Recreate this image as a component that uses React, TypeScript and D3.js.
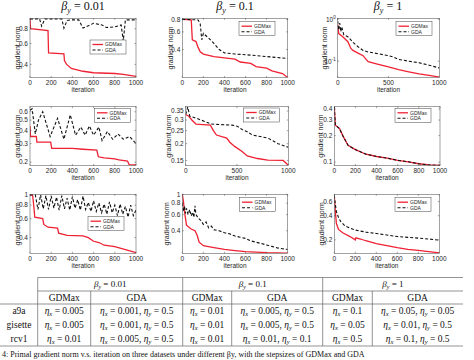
import React from "react";
import * as d3 from "d3";

type Pt = [number, number];

const betaLabels = ["0.01", "0.1", "1"];
const methodNames = ["GDMax", "GDA"];
const datasetNames = ["a9a", "gisette", "rcv1"];
const iterFine = [0, 200, 400, 600, 800, 1000];
const iterCoarse = [0, 500, 1000];

// gradient norm vs iteration, [iter, value]
// row 1: a9a
const a9aGDMax001: Pt[] = [[0, 0.97], [5, 0.8], [170, 0.77], [175, 0.5], [320, 0.49], [325, 0.43], [345, 0.4], [390, 0.37], [500, 0.35], [600, 0.34], [800, 0.335], [880, 0.33], [1000, 0.317]];
const a9aGDA001: Pt[] = [[0, 0.97], [90, 0.97], [110, 0.84], [140, 0.97], [300, 0.97], [320, 0.81], [350, 0.94], [380, 0.95], [460, 0.95], [500, 0.81], [540, 0.84], [600, 0.89], [680, 0.86], [720, 0.82], [800, 0.83], [860, 0.86], [880, 0.63], [900, 0.95], [1000, 0.95]];
const a9aGDMax01: Pt[] = [[0, 0.8], [85, 0.79], [95, 0.5], [130, 0.48], [150, 0.42], [170, 0.38], [200, 0.36], [300, 0.34], [400, 0.33], [500, 0.32], [550, 0.3], [650, 0.29], [700, 0.27], [800, 0.26], [850, 0.245], [950, 0.23], [1000, 0.21]];
const a9aGDA01: Pt[] = [[0, 0.8], [150, 0.79], [170, 0.72], [185, 0.5], [200, 0.58], [250, 0.52], [300, 0.46], [350, 0.4], [400, 0.37], [500, 0.36], [600, 0.355], [800, 0.34], [1000, 0.325]];
const a9aGDMax1: Pt[] = [[0, 0.75], [10, 0.45], [50, 0.38], [100, 0.29], [130, 0.2], [150, 0.18], [200, 0.155], [250, 0.135], [280, 0.11], [300, 0.097], [400, 0.084], [500, 0.073], [600, 0.063], [700, 0.056], [800, 0.05], [900, 0.046], [1000, 0.042]];
const a9aGDA1: Pt[] = [[0, 0.9], [10, 0.55], [20, 0.8], [30, 0.5], [40, 0.65], [60, 0.42], [100, 0.38], [150, 0.28], [200, 0.22], [250, 0.18], [300, 0.165], [400, 0.15], [500, 0.135], [550, 0.125], [600, 0.11], [700, 0.1], [800, 0.092], [900, 0.08], [1000, 0.069]];

// row 2: gisette
const gisGDMax001: Pt[] = [[0, 0.44], [5, 0.35], [60, 0.35], [65, 0.31], [195, 0.31], [205, 0.27], [400, 0.27], [500, 0.265], [630, 0.26], [645, 0.225], [700, 0.22], [800, 0.215], [840, 0.21], [920, 0.205], [935, 0.19], [1000, 0.188]];
const gisGDA001: Pt[] = [[0, 0.62], [20, 0.64], [50, 0.37], [80, 0.5], [120, 0.6], [190, 0.35], [260, 0.52], [320, 0.33], [380, 0.56], [430, 0.36], [480, 0.43], [520, 0.36], [560, 0.44], [600, 0.36], [650, 0.43], [680, 0.32], [730, 0.39], [780, 0.33], [830, 0.37], [880, 0.33], [940, 0.35], [1000, 0.3]];
const gisGDMax01: Pt[] = [[0, 0.33], [30, 0.32], [60, 0.3], [100, 0.28], [240, 0.275], [270, 0.25], [300, 0.232], [400, 0.22], [430, 0.205], [480, 0.19], [550, 0.175], [600, 0.162], [700, 0.155], [800, 0.151], [950, 0.15], [1000, 0.138]];
const gisGDA01: Pt[] = [[0, 0.33], [20, 0.375], [40, 0.32], [100, 0.31], [200, 0.29], [250, 0.28], [350, 0.277], [450, 0.275], [500, 0.27], [550, 0.255], [600, 0.245], [650, 0.232], [700, 0.228], [800, 0.22], [850, 0.21], [900, 0.2], [1000, 0.188]];
const gisGDMax1: Pt[] = [[0, 0.42], [10, 0.262], [50, 0.24], [80, 0.2], [130, 0.155], [200, 0.139], [300, 0.123], [400, 0.116], [500, 0.111], [600, 0.105], [700, 0.101], [800, 0.096], [900, 0.093], [1000, 0.092]];
const gisGDA1: Pt[] = [[0, 0.42], [10, 0.262], [50, 0.24], [80, 0.2], [130, 0.155], [200, 0.139], [300, 0.123], [400, 0.116], [500, 0.111], [600, 0.105], [700, 0.101], [800, 0.096], [900, 0.093], [1000, 0.092]];

// row 3: rcv1
const rcvGDMax001: Pt[] = [[0, 1.0], [25, 0.98], [35, 0.8], [45, 0.62], [120, 0.6], [130, 0.53], [170, 0.5], [260, 0.49], [270, 0.44], [350, 0.42], [500, 0.415], [550, 0.4], [600, 0.37], [650, 0.36], [700, 0.34], [800, 0.33], [900, 0.31], [950, 0.3], [1000, 0.29]];
const rcvGDA001: Pt[] = [[0, 1.0], [25, 1.0], [50, 1.0], [75, 0.73], [100, 1.0], [125, 0.74], [150, 0.98], [175, 0.73], [200, 0.97], [225, 0.75], [250, 0.95], [275, 0.72], [300, 0.98], [325, 0.74], [350, 0.93], [375, 0.72], [400, 0.96], [425, 0.75], [450, 0.9], [475, 0.72], [500, 0.97], [525, 0.73], [550, 0.85], [575, 0.7], [600, 0.88], [625, 0.7], [650, 0.84], [675, 0.68], [700, 0.82], [725, 0.66], [750, 0.86], [775, 0.68], [800, 0.8], [825, 0.64], [850, 0.82], [875, 0.66], [900, 0.78], [925, 0.62], [950, 0.8], [975, 0.64], [1000, 0.72]];
const rcvGDMax01: Pt[] = [[0, 1.0], [10, 0.85], [25, 0.6], [40, 0.46], [80, 0.42], [120, 0.4], [140, 0.36], [160, 0.3], [200, 0.275], [300, 0.262], [400, 0.25], [500, 0.243], [600, 0.237], [800, 0.231], [1000, 0.228]];
const rcvGDA01: Pt[] = [[0, 0.8], [10, 0.65], [20, 0.75], [30, 0.62], [40, 0.7], [55, 0.6], [70, 0.68], [85, 0.58], [100, 0.64], [110, 0.56], [120, 0.75], [130, 0.6], [150, 0.55], [175, 0.52], [200, 0.47], [225, 0.5], [250, 0.43], [275, 0.45], [300, 0.41], [350, 0.4], [400, 0.38], [450, 0.37], [500, 0.35], [550, 0.34], [600, 0.33], [650, 0.31], [700, 0.3], [750, 0.29], [800, 0.28], [850, 0.27], [900, 0.26], [950, 0.255], [1000, 0.25]];
const rcvGDMax1: Pt[] = [[0, 0.7], [10, 0.45], [20, 0.32], [40, 0.27], [80, 0.245], [150, 0.22], [200, 0.2], [205, 0.212], [250, 0.205], [300, 0.195], [400, 0.18], [500, 0.17], [600, 0.16], [700, 0.152], [800, 0.148], [900, 0.143], [1000, 0.138]];
const rcvGDA1: Pt[] = [[0, 0.72], [10, 0.55], [20, 0.45], [40, 0.38], [60, 0.34], [100, 0.3], [150, 0.28], [200, 0.265], [300, 0.25], [400, 0.24], [500, 0.23], [600, 0.22], [700, 0.215], [800, 0.21], [900, 0.205], [1000, 0.198]];

// step sizes in table: [dataset][beta]
const stepGDMax = [["0.005", "0.01", "0.1"], ["0.005", "0.01", "0.05"], ["0.01", "0.01", "0.5"]];
const stepGDA = [
  [["0.001", "0.5"], ["0.005", "0.5"], ["0.05", "0.05"]],
  [["0.001", "0.5"], ["0.005", "0.5"], ["0.01", "0.5"]],
  [["0.005", "0.5"], ["0.01", "0.1"], ["0.1", "0.5"]],
];

const RED = "#ee2233";
const AX = "#444";
const SANS = "'Liberation Sans', Arial, sans-serif";
const SERIF = "'Liberation Serif', 'DejaVu Serif', serif";

interface PanelCfg {
  gdmax: Pt[];
  gda: Pt[];
  box: [number, number, number, number]; // l, t, r, b
  ydom: [number, number];
  yticks: number[];
  xticks: number[];
  ylabX: number;
  leg: [number, number];
  pow?: boolean;
}

const panels: PanelCfg[] = [
  { gdmax: a9aGDMax001, gda: a9aGDA001, box: [30, 18.3, 136, 77.5], ydom: [0.31, 0.98], yticks: [0.4, 0.6, 0.8], xticks: iterFine, ylabX: 17.5, leg: [90, 40] },
  { gdmax: a9aGDMax01, gda: a9aGDA01, box: [182.3, 18.3, 287.7, 77.5], ydom: [0.21, 0.82], yticks: [0.4, 0.6, 0.8], xticks: iterFine, ylabX: 170.5, leg: [239, 21.7] },
  { gdmax: a9aGDMax1, gda: a9aGDA1, box: [337.7, 18.3, 439.3, 77.5], ydom: [0.041, 1.04], yticks: [0.1, 1], xticks: iterCoarse, ylabX: 324.5, leg: [396, 21.7], pow: true },
  { gdmax: gisGDMax001, gda: gisGDA001, box: [30, 106.7, 136, 165.5], ydom: [0.186, 0.67], yticks: [0.2, 0.3, 0.4, 0.5, 0.6], xticks: iterFine, ylabX: 17.5, leg: [94.5, 108.3] },
  { gdmax: gisGDMax01, gda: gisGDA01, box: [185.7, 106.7, 288.3, 165.5], ydom: [0.1375, 0.377], yticks: [0.15, 0.2, 0.25, 0.3, 0.35], xticks: iterCoarse, ylabX: 168.5, leg: [243.7, 108] },
  { gdmax: gisGDMax1, gda: gisGDA1, box: [334.3, 106.7, 440, 165.5], ydom: [0.0917, 0.425], yticks: [0.1, 0.2, 0.3, 0.4], xticks: iterFine, ylabX: 320, leg: [395, 108.3] },
  { gdmax: rcvGDMax001, gda: rcvGDA001, box: [30, 194.3, 136, 253.3], ydom: [0.286, 1.01], yticks: [0.4, 0.6, 0.8, 1], xticks: iterFine, ylabX: 17.3, leg: [88, 216.7] },
  { gdmax: rcvGDMax01, gda: rcvGDA01, box: [182.3, 194.3, 287.7, 253.3], ydom: [0.227, 1.0], yticks: [0.4, 0.6, 0.8, 1], xticks: iterFine, ylabX: 166.7, leg: [239.5, 197.7] },
  { gdmax: rcvGDMax1, gda: rcvGDA1, box: [334.3, 194.3, 439.3, 253.3], ydom: [0.136, 0.74], yticks: [0.2, 0.4, 0.6], xticks: iterFine, ylabX: 321, leg: [395, 197.7] },
];

function Panel({ p, idx }: { p: PanelCfg; idx: number }) {
  const [l, t, r, b] = p.box;
  const x = d3.scaleLinear().domain([0, 1000]).range([l, r]);
  const y = d3.scaleLog().domain(p.ydom).range([b, t]);
  const line = d3.line<Pt>().x((d) => x(d[0])).y((d) => y(d[1]));
  const clip = `clip${idx}`;
  const [lx, ly] = p.leg;
  const lw = 36;
  const lh = 14;
  return (
    <g>
      <clipPath id={clip}>
        <rect x={l} y={t} width={r - l} height={b - t} />
      </clipPath>
      <rect x={l} y={t} width={r - l} height={b - t} fill="#fff" />
      <g clipPath={`url(#${clip})`}>
        <path d={line(p.gdmax) ?? ""} fill="none" stroke={RED} strokeWidth={1.3} />
        <path d={line(p.gda) ?? ""} fill="none" stroke="#111" strokeWidth={1.1} strokeDasharray="3,2" />
      </g>
      <rect x={l} y={t} width={r - l} height={b - t} fill="none" stroke={AX} strokeWidth={0.5} />
      {p.xticks.map((v) => (
        <g key={`x${v}`}>
          <line x1={x(v)} x2={x(v)} y1={b} y2={b - 1.5} stroke={AX} strokeWidth={0.5} />
          <line x1={x(v)} x2={x(v)} y1={t} y2={t + 1.5} stroke={AX} strokeWidth={0.5} />
          <text x={x(v)} y={b + 7.5} fontSize={6.5} fontFamily={SANS} fill="#262626" textAnchor="middle">
            {v}
          </text>
        </g>
      ))}
      {p.yticks.map((v) => (
        <g key={`y${v}`}>
          <line x1={l} x2={l + 1.5} y1={y(v)} y2={y(v)} stroke={AX} strokeWidth={0.5} />
          <line x1={r} x2={r - 1.5} y1={y(v)} y2={y(v)} stroke={AX} strokeWidth={0.5} />
          {p.pow ? (
            <text x={l - 2} y={y(v) + 2.5} fontSize={6.5} fontFamily={SANS} fill="#262626" textAnchor="end">
              10<tspan fontSize={4.5} dy={-3}>{Math.round(Math.log10(v))}</tspan>
            </text>
          ) : (
            <text x={l - 2} y={y(v) + 2.3} fontSize={6.5} fontFamily={SANS} fill="#262626" textAnchor="end">
              {v}
            </text>
          )}
        </g>
      ))}
      <text x={(l + r) / 2} y={b + 14.5} fontSize={6.5} fontFamily={SANS} fill="#262626" textAnchor="middle">
        iteration
      </text>
      <text
        transform={`translate(${p.ylabX + 2.5},${(t + b) / 2}) rotate(-90)`}
        fontSize={7}
        fontFamily={SANS}
        fill="#262626"
        textAnchor="middle"
      >
        gradient norm
      </text>
      <rect x={lx} y={ly} width={lw} height={lh} fill="#fff" stroke={AX} strokeWidth={0.5} />
      <line x1={lx + 2.5} x2={lx + 13} y1={ly + 4.5} y2={ly + 4.5} stroke={RED} strokeWidth={1.3} />
      <line x1={lx + 2.5} x2={lx + 13} y1={ly + 10} y2={ly + 10} stroke="#111" strokeWidth={1.1} strokeDasharray="3,2" />
      <text x={lx + 15} y={ly + 6.3} fontSize={5} fontFamily={SANS} fill="#262626">
        {methodNames[0]}
      </text>
      <text x={lx + 15} y={ly + 11.8} fontSize={5} fontFamily={SANS} fill="#262626">
        {methodNames[1]}
      </text>
    </g>
  );
}

function Eta({ x, y, parts }: { x: number; y: number; parts: string[] }) {
  // parts: [eta_x value, eta_y value?]
  return (
    <text x={x} y={y} fontSize={9.5} fontFamily={SERIF} fill="#111" textAnchor="middle">
      <tspan fontStyle="italic">η</tspan>
      <tspan fontStyle="italic" fontSize={6.5} dy={2}>x</tspan>
      <tspan dy={-2}>{` = ${parts[0]}`}</tspan>
      {parts.length > 1 && (
        <>
          <tspan>{", "}</tspan>
          <tspan fontStyle="italic">η</tspan>
          <tspan fontStyle="italic" fontSize={6.5} dy={2}>y</tspan>
          <tspan dy={-2}>{` = ${parts[1]}`}</tspan>
        </>
      )}
    </text>
  );
}

function Table() {
  const vx = [37.7, 90.7, 182.7, 231.7, 322.7, 372.3, 463];
  const yTop = 277.5;
  const yH1 = 291;
  const yH2 = 304;
  const yBot = 346;
  const rowY = d3.scaleBand<string>().domain(datasetNames).range([yH2, yBot]);
  const lc = "#666";
  return (
    <g>
      <line x1={vx[0]} x2={vx[6]} y1={yTop} y2={yTop} stroke={lc} strokeWidth={0.7} />
      <line x1={vx[0]} x2={vx[6]} y1={yH1} y2={yH1} stroke={lc} strokeWidth={0.7} />
      <line x1={0} x2={vx[6]} y1={yH2} y2={yH2} stroke={lc} strokeWidth={0.7} />
      <line x1={0} x2={vx[6]} y1={yBot} y2={yBot} stroke={lc} strokeWidth={0.7} />
      {[0, 2, 4].map((i) => (
        <line key={`vt${i}`} x1={vx[i]} x2={vx[i]} y1={yTop} y2={yBot} stroke={lc} strokeWidth={0.7} />
      ))}
      {[1, 3, 5].map((i) => (
        <line key={`vm${i}`} x1={vx[i]} x2={vx[i]} y1={yH1} y2={yBot} stroke={lc} strokeWidth={0.7} />
      ))}
      {betaLabels.map((bl, j) => (
        <text key={`b${j}`} x={(vx[2 * j] + vx[2 * j + 2]) / 2} y={yH1 - 3.8} fontSize={9} fontFamily={SERIF} fill="#111" textAnchor="middle">
          <tspan fontStyle="italic">β</tspan>
          <tspan fontStyle="italic" fontSize={6} dy={2}>y</tspan>
          <tspan dy={-2}>{` = ${bl}`}</tspan>
        </text>
      ))}
      {betaLabels.map((_, j) =>
        methodNames.map((m, k) => (
          <text key={`m${j}${k}`} x={(vx[2 * j + k] + vx[2 * j + k + 1]) / 2} y={yH2 - 3.5} fontSize={9.5} fontFamily={SERIF} fill="#111" textAnchor="middle">
            {m}
          </text>
        ))
      )}
      {datasetNames.map((ds, i) => {
        const cy = (rowY(ds) ?? 0) + rowY.bandwidth() / 2 + 3.3;
        return (
          <g key={ds}>
            <text x={19} y={cy} fontSize={9.5} fontFamily={SERIF} fill="#111" textAnchor="middle">
              {ds}
            </text>
            {betaLabels.map((_, j) => (
              <g key={`s${j}`}>
                <Eta x={(vx[2 * j] + vx[2 * j + 1]) / 2} y={cy} parts={[stepGDMax[i][j]]} />
                <Eta x={(vx[2 * j + 1] + vx[2 * j + 2]) / 2} y={cy} parts={stepGDA[i][j]} />
              </g>
            ))}
          </g>
        );
      })}
    </g>
  );
}

export default function App() {
  const titleX = [83, 235, 388];
  return (
    <svg width={474} height={360} style={{ position: "absolute", left: 0, top: 0, background: "#fff" }}>
      <rect width={474} height={360} fill="#fff" />
      {betaLabels.map((bl, j) => (
        <text key={bl} x={titleX[j]} y={10} fontSize={12} fontFamily={SERIF} fill="#111" textAnchor="middle">
          <tspan fontStyle="italic">β</tspan>
          <tspan fontStyle="italic" fontSize={8} dy={2.5}>y</tspan>
          <tspan dy={-2.5}>{` = ${bl}`}</tspan>
        </text>
      ))}
      {panels.map((p, i) => (
        <Panel key={i} p={p} idx={i} />
      ))}
      <Table />
      <text x={2} y={356.5} fontSize={8} fontFamily={SERIF} fill="#111">
        4: Primal gradient norm v.s. iteration on three datasets under different βy, with the stepsizes of GDMax and GDA
      </text>
    </svg>
  );
}
